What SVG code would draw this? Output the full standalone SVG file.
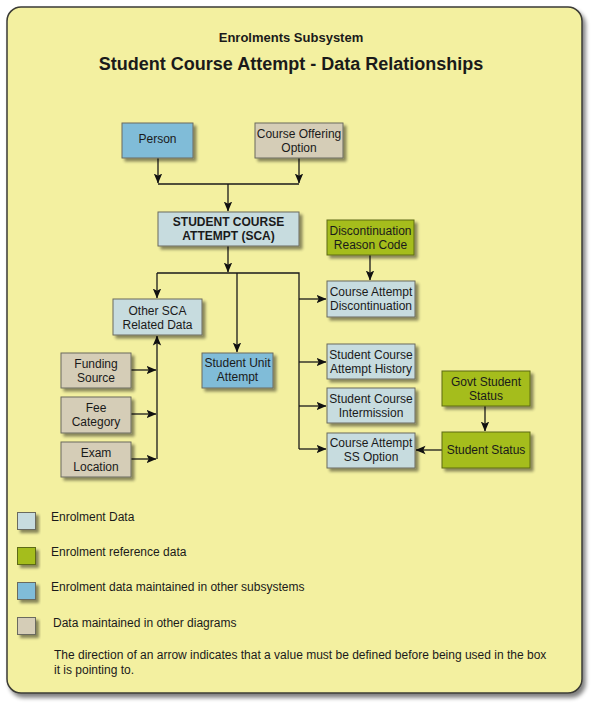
<svg xmlns="http://www.w3.org/2000/svg" width="596" height="707" viewBox="0 0 596 707">
<defs>
<filter id="sh" x="-20%" y="-20%" width="150%" height="160%">
<feGaussianBlur in="SourceAlpha" stdDeviation="1.6"/>
<feOffset dx="3" dy="3" result="b"/>
<feComponentTransfer><feFuncA type="linear" slope="0.45"/></feComponentTransfer>
<feMerge><feMergeNode/><feMergeNode in="SourceGraphic"/></feMerge>
</filter>
<filter id="psh" x="-5%" y="-5%" width="110%" height="110%">
<feGaussianBlur in="SourceAlpha" stdDeviation="2"/>
<feOffset dx="3" dy="4" result="b"/>
<feComponentTransfer><feFuncA type="linear" slope="0.5"/></feComponentTransfer>
<feMerge><feMergeNode/><feMergeNode in="SourceGraphic"/></feMerge>
</filter>
<marker id="ar" viewBox="0 0 10 10" refX="9.5" refY="5" markerWidth="10" markerHeight="10" markerUnits="userSpaceOnUse" orient="auto">
<path d="M0,0.8 L10,5 L0,9.2 L2.2,5 z" fill="#111"/>
</marker>
<style>
.t{font-family:"Liberation Sans",Arial,sans-serif;font-size:12px;fill:#1a1a1a;text-anchor:middle}
.l{font-family:"Liberation Sans",Arial,sans-serif;font-size:12px;fill:#1a1a1a}
.b{font-weight:bold}
.n{stroke:#6b6b5e;stroke-width:1;filter:url(#sh)}
.ed{fill:#c7dcdf}
.rf{fill:#a5bd1d;stroke:#5d6b12}
.os{fill:#80bcd8}
.od{fill:#d5cdb7}
.c{fill:none;stroke:#1a1a1a;stroke-width:1.3}
.a{marker-end:url(#ar)}
</style>
</defs>
<rect x="7" y="7" width="575" height="686" rx="14" fill="#f3f0a0" stroke="#3a3a34" stroke-width="1.5" filter="url(#psh)"/>
<text class="t b" x="291" y="42" style="font-size:13px">Enrolments Subsystem</text>
<text class="t b" x="291" y="70" style="font-size:18px">Student Course Attempt - Data Relationships</text>

<g id="connectors">
<path class="c a" d="M158,158 V183"/>
<path class="c a" d="M299,158 V183"/>
<path class="c" d="M158,184 H299"/>
<path class="c a" d="M228,184 V211"/>
<path class="c a" d="M228,246 V272"/>
<path class="c" d="M157,273 H299 V449"/>
<path class="c a" d="M157,273 V298"/>
<path class="c a" d="M237,273 V352"/>
<path class="c a" d="M299,299 H326"/>
<path class="c a" d="M299,362 H326"/>
<path class="c a" d="M299,406 H326"/>
<path class="c a" d="M299,449 H326"/>
<path class="c a" d="M370,255 V280"/>
<path class="c a" d="M485,406 V431"/>
<path class="c a" d="M442,450 H416"/>
<path class="c a" d="M157,459 V336"/>
<path class="c a" d="M131,370 H156"/>
<path class="c a" d="M131,414 H156"/>
<path class="c a" d="M131,459 H156"/>
</g>

<g id="person"><rect class="n os" x="122" y="123" width="71" height="35"/><text class="t" x="157.5" y="142.5">Person</text></g>
<g id="course-offering-option"><rect class="n od" x="255" y="123" width="88" height="35"/><text class="t" x="299" y="138">Course Offering</text><text class="t" x="299" y="152">Option</text></g>
<g id="sca"><rect class="n ed" x="158" y="212" width="141" height="34"/><text class="t b" x="228.5" y="226">STUDENT COURSE</text><text class="t b" x="228.5" y="240">ATTEMPT (SCA)</text></g>
<g id="discontinuation-reason-code"><rect class="n rf" x="327" y="220" width="87" height="35"/><text class="t" x="370.5" y="235">Discontinuation</text><text class="t" x="370.5" y="249">Reason Code</text></g>
<g id="other-sca"><rect class="n ed" x="113" y="299" width="89" height="36"/><text class="t" x="157.5" y="314.5">Other SCA</text><text class="t" x="157.5" y="328.5">Related Data</text></g>
<g id="course-attempt-discontinuation"><rect class="n ed" x="327" y="281" width="88" height="36"/><text class="t" x="371" y="296">Course Attempt</text><text class="t" x="371" y="310">Discontinuation</text></g>
<g id="student-unit-attempt"><rect class="n os" x="202" y="353" width="71" height="35"/><text class="t" x="237.5" y="367">Student Unit</text><text class="t" x="237.5" y="381">Attempt</text></g>
<g id="funding-source"><rect class="n od" x="61" y="353" width="70" height="35"/><text class="t" x="96" y="368">Funding</text><text class="t" x="96" y="382">Source</text></g>
<g id="sca-history"><rect class="n ed" x="327" y="344" width="88" height="35"/><text class="t" x="371" y="358.5">Student Course</text><text class="t" x="371" y="372.5">Attempt History</text></g>
<g id="govt-student-status"><rect class="n rf" x="442" y="371" width="88" height="35"/><text class="t" x="486" y="385.5">Govt Student</text><text class="t" x="486" y="399.5">Status</text></g>
<g id="fee-category"><rect class="n od" x="61" y="397" width="70" height="36"/><text class="t" x="96" y="411.5">Fee</text><text class="t" x="96" y="425.5">Category</text></g>
<g id="student-course-intermission"><rect class="n ed" x="327" y="388" width="88" height="35"/><text class="t" x="371" y="402.5">Student Course</text><text class="t" x="371" y="416.5">Intermission</text></g>
<g id="exam-location"><rect class="n od" x="61" y="442" width="70" height="35"/><text class="t" x="96" y="456.5">Exam</text><text class="t" x="96" y="470.5">Location</text></g>
<g id="course-attempt-ss-option"><rect class="n ed" x="327" y="433" width="88" height="35"/><text class="t" x="371" y="447">Course Attempt</text><text class="t" x="371" y="461">SS Option</text></g>
<g id="student-status"><rect class="n rf" x="442" y="432" width="88" height="36"/><text class="t" x="486" y="454">Student Status</text></g>

<g id="legend">
<rect class="n ed" x="17.5" y="512.5" width="18" height="17"/>
<text class="l" x="51" y="521">Enrolment Data</text>
<rect class="n rf" x="17.5" y="547.5" width="18" height="17"/>
<text class="l" x="51" y="556">Enrolment reference data</text>
<rect class="n os" x="17.5" y="582.5" width="18" height="17"/>
<text class="l" x="51" y="591">Enrolment data maintained in other subsystems</text>
<rect class="n od" x="17.5" y="617.5" width="18" height="17"/>
<text class="l" x="53" y="627">Data maintained in other diagrams</text>
<text class="l" x="54" y="659">The direction of an arrow indicates that a value must be defined before being used in the box</text>
<text class="l" x="54" y="674">it is pointing to.</text>
</g>
</svg>
